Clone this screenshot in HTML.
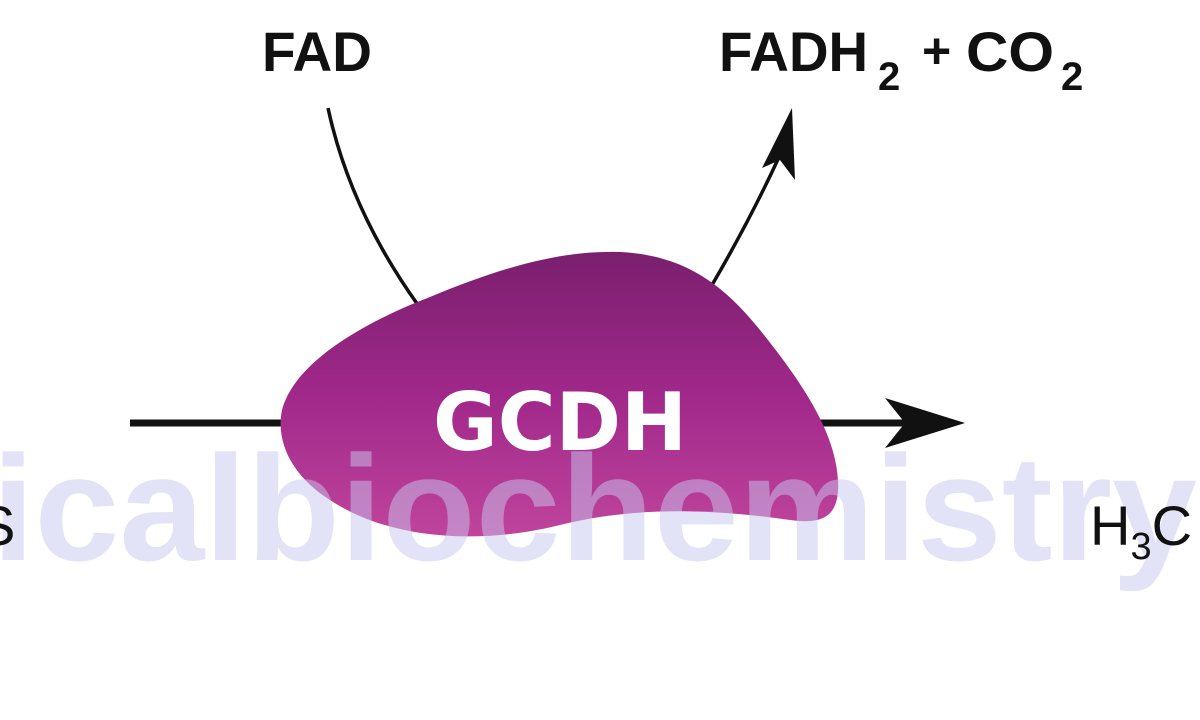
<!DOCTYPE html>
<html><head><meta charset="utf-8"><style>
html,body{margin:0;padding:0;background:#fff;width:1200px;height:720px;overflow:hidden}
</style></head><body>
<svg width="1200" height="720" viewBox="0 0 1200 720" xmlns="http://www.w3.org/2000/svg">
<defs>
<linearGradient id="g" x1="0" y1="0" x2="0" y2="1">
<stop offset="0" stop-color="#7a1f6e"/>
<stop offset="0.5" stop-color="#a0288a"/>
<stop offset="1" stop-color="#c0449c"/>
</linearGradient>
</defs>
<rect width="1200" height="720" fill="#fff"/>
<g font-family="Liberation Sans, sans-serif" font-weight="bold" fill="#111">
<text x="262" y="71" font-size="56" textLength="110" lengthAdjust="spacingAndGlyphs">FAD</text>
<text x="719" y="71" font-size="56" textLength="149" lengthAdjust="spacingAndGlyphs">FADH</text>
<text x="878" y="90" font-size="40">2</text>
<text x="922" y="68" font-size="50">+</text>
<text x="966" y="71" font-size="56" textLength="88" lengthAdjust="spacingAndGlyphs">CO</text>
<text x="1061" y="90" font-size="40">2</text>
</g>
<path d="M328 108 Q350 210 418 305" stroke="#111" stroke-width="3.5" fill="none"/>
<path d="M712 285 Q750 220 780 155" stroke="#111" stroke-width="3.5" fill="none"/>
<polygon points="792,108 795,180 780,160 762,168" fill="#111"/>
<line x1="130" y1="423" x2="290" y2="423" stroke="#111" stroke-width="7"/>
<line x1="820" y1="423" x2="910" y2="423" stroke="#111" stroke-width="7"/>
<polygon points="965,423 885,398 905,423 885,448" fill="#111"/>
<path d="M282 410 C295 360 370 320 430 297 C500 268 560 250 620 252 C680 255 720 280 760 330 C800 380 835 430 838 480 C840 515 825 525 790 520 C720 510 640 505 560 525 C480 545 390 540 330 500 C295 478 275 445 282 410 Z" fill="url(#g)"/>
<text x="560" y="450" text-anchor="middle" font-family="DejaVu Sans, Liberation Sans, sans-serif" font-weight="bold" font-size="80" fill="#fff" textLength="254" lengthAdjust="spacingAndGlyphs">GCDH</text>
<text x="-8" y="560" font-family="Liberation Sans, sans-serif" font-weight="bold" font-size="150" fill="#c8c8f0" fill-opacity="0.5" textLength="1205" lengthAdjust="spacingAndGlyphs">icalbiochemistry</text>
<text x="-22" y="545" font-family="Liberation Sans, sans-serif" font-size="56" fill="#111">S</text>
<text x="1090" y="545" font-family="Liberation Sans, sans-serif" font-size="56" fill="#111">H<tspan font-size="38" dy="14">3</tspan><tspan dy="-14">C</tspan></text>
</svg>
</body></html>
